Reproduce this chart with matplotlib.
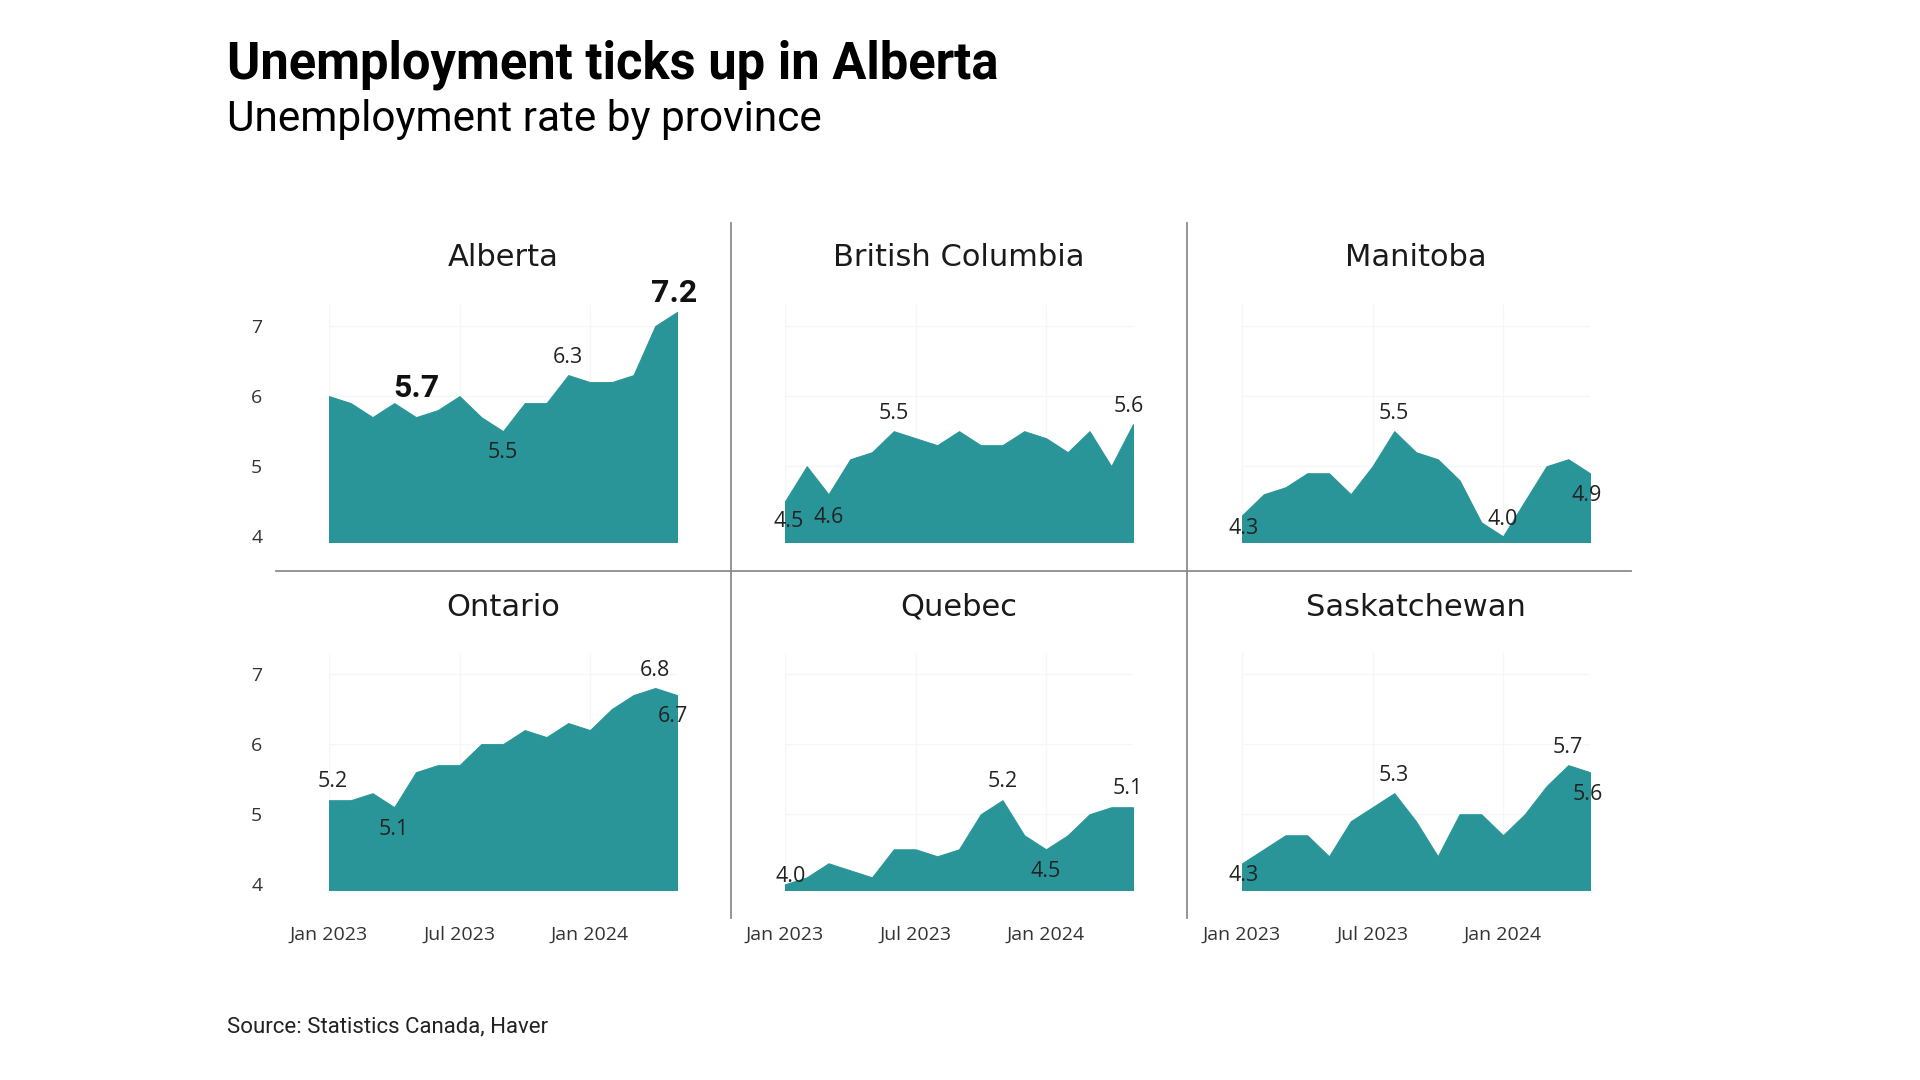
import matplotlib.pyplot as plt
from matplotlib.lines import Line2D
import numpy as np

# monthly unemployment rate, Jan 2023 - May 2024
months = ['Jan 2023', 'Feb 2023', 'Mar 2023', 'Apr 2023', 'May 2023', 'Jun 2023',
          'Jul 2023', 'Aug 2023', 'Sep 2023', 'Oct 2023', 'Nov 2023', 'Dec 2023',
          'Jan 2024', 'Feb 2024', 'Mar 2024', 'Apr 2024', 'May 2024']
alberta = [6.0, 5.9, 5.7, 5.9, 5.7, 5.8, 6.0, 5.7, 5.5, 5.9, 5.9, 6.3, 6.2, 6.2, 6.3, 7.0, 7.2]
british_columbia = [4.5, 5.0, 4.6, 5.1, 5.2, 5.5, 5.4, 5.3, 5.5, 5.3, 5.3, 5.5, 5.4, 5.2, 5.5, 5.0, 5.6]
manitoba = [4.3, 4.6, 4.7, 4.9, 4.9, 4.6, 5.0, 5.5, 5.2, 5.1, 4.8, 4.2, 4.0, 4.5, 5.0, 5.1, 4.9]
ontario = [5.2, 5.2, 5.3, 5.1, 5.6, 5.7, 5.7, 6.0, 6.0, 6.2, 6.1, 6.3, 6.2, 6.5, 6.7, 6.8, 6.7]
quebec = [4.0, 4.1, 4.3, 4.2, 4.1, 4.5, 4.5, 4.4, 4.5, 5.0, 5.2, 4.7, 4.5, 4.7, 5.0, 5.1, 5.1]
saskatchewan = [4.3, 4.5, 4.7, 4.7, 4.4, 4.9, 5.1, 5.3, 4.9, 4.4, 5.0, 5.0, 4.7, 5.0, 5.4, 5.7, 5.6]

provinces = ['Alberta', 'British Columbia', 'Manitoba', 'Ontario', 'Quebec', 'Saskatchewan']
series = [alberta, british_columbia, manitoba, ontario, quebec, saskatchewan]

x_tick_labels = ['Jan 2023', 'Jul 2023', 'Jan 2024']
y_ticks = [4, 5, 6, 7]

# which points get a value label: (month index, dx px, dy px, bold)
callouts = {
    'Alberta': [(4, 0, 29, True), (8, 0, -21, False), (11, 0, 18, False), (16, -3, 19, True)],
    'British Columbia': [(0, 4, -20, False), (2, 0, -23, False), (5, 0, 18, False), (16, -4, 18, False)],
    'Manitoba': [(0, 2, -13, False), (7, 0, 18, False), (12, 0, 17, False), (16, -3, -22, False)],
    'Ontario': [(0, 4, 19, False), (3, 0, -22, False), (15, 0, 18, False), (16, -4, -21, False)],
    'Quebec': [(0, 6, 8, False), (10, 0, 19, False), (12, 0, -22, False), (16, -5, 19, False)],
    'Saskatchewan': [(0, 2, -12, False), (7, 0, 18, False), (15, 0, 18, False), (16, -2, -22, False)],
}

W, H = 1920, 1080
teal = '#2a9598'
ymin, ymax = 3.92, 7.3

fig = plt.figure(figsize=(19.2, 10.8), dpi=100)
fig.patch.set_facecolor('white')


def box(left, top, right, bottom):
    return [left / W, 1 - bottom / H, (right - left) / W, (bottom - top) / H]


col_left = [329, 785, 1242]
col_w = 348
row_top = [305, 653]
row_bottom = [542, 890]
title_y = [258, 607]

x = np.arange(len(months))
for i, (name, vals) in enumerate(zip(provinces, series)):
    r, c = divmod(i, 3)
    ax = fig.add_axes(box(col_left[c], row_top[r], col_left[c] + col_w, row_bottom[r]))
    ax.fill_between(x, vals, ymin, color=teal, lw=0.8, edgecolor=teal, zorder=2)
    ax.set_xlim(0, len(months) - 1)
    ax.set_ylim(ymin, ymax)
    ax.set_yticks(y_ticks)
    ax.set_xticks([months.index(m) for m in x_tick_labels])
    ax.grid(color='#f6f6f6', lw=1)
    ax.set_axisbelow(True)
    for s in ax.spines.values():
        s.set_visible(False)
    ax.tick_params(length=0, labelsize=14, labelcolor='#333333')
    if c == 0:
        ax.set_yticklabels([str(t) for t in y_ticks], fontfamily='Open Sans')
        ax.tick_params(axis='y', pad=48)
    else:
        ax.set_yticklabels([])
    if r == 1:
        ax.set_xticklabels(x_tick_labels, fontfamily='Open Sans')
        ax.tick_params(axis='x', pad=26)
    else:
        ax.set_xticklabels([])

    for idx, dx, dy, bold in callouts[name]:
        ax.annotate(f'{vals[idx]:.1f}', (idx, vals[idx]), xytext=(dx, dy),
                    textcoords='offset pixels', ha='center', va='center',
                    fontsize=23 if bold else 15.5,
                    fontweight='bold' if bold else 'normal',
                    fontfamily='Roboto' if bold else 'Open Sans',
                    color='#111111' if bold else '#222222',
                    annotation_clip=False, zorder=5)

    cx = (col_left[c] + col_w / 2) / W
    fig.text(cx, 1 - title_y[r] / H, name, ha='center', va='center',
             fontsize=22, fontfamily='DejaVu Sans', color='#1a1a1a')

# panel dividers
line_c = '#8c8c8c'
for xv in [731, 1187]:
    fig.add_artist(Line2D([xv / W, xv / W], [1 - 223 / H, 1 - 918 / H],
                          transform=fig.transFigure, color=line_c, lw=1.3))
fig.add_artist(Line2D([276 / W, 1631 / W], [1 - 571 / H, 1 - 571 / H],
                      transform=fig.transFigure, color=line_c, lw=1.3))

fig.text(227 / W, 1 - 65 / H, 'Unemployment ticks up in Alberta', ha='left', va='center',
         fontsize=36.5, fontweight='bold', fontfamily='Roboto', color='black')
fig.text(227 / W, 1 - 119 / H, 'Unemployment rate by province', ha='left', va='center',
         fontsize=30.5, fontweight='normal', fontfamily='Roboto', color='black')
fig.text(227 / W, 1 - 1027 / H, 'Source: Statistics Canada, Haver', ha='left', va='center',
         fontsize=16, fontfamily='Roboto', color='#222222')

fig.savefig('out.png', dpi=100)
